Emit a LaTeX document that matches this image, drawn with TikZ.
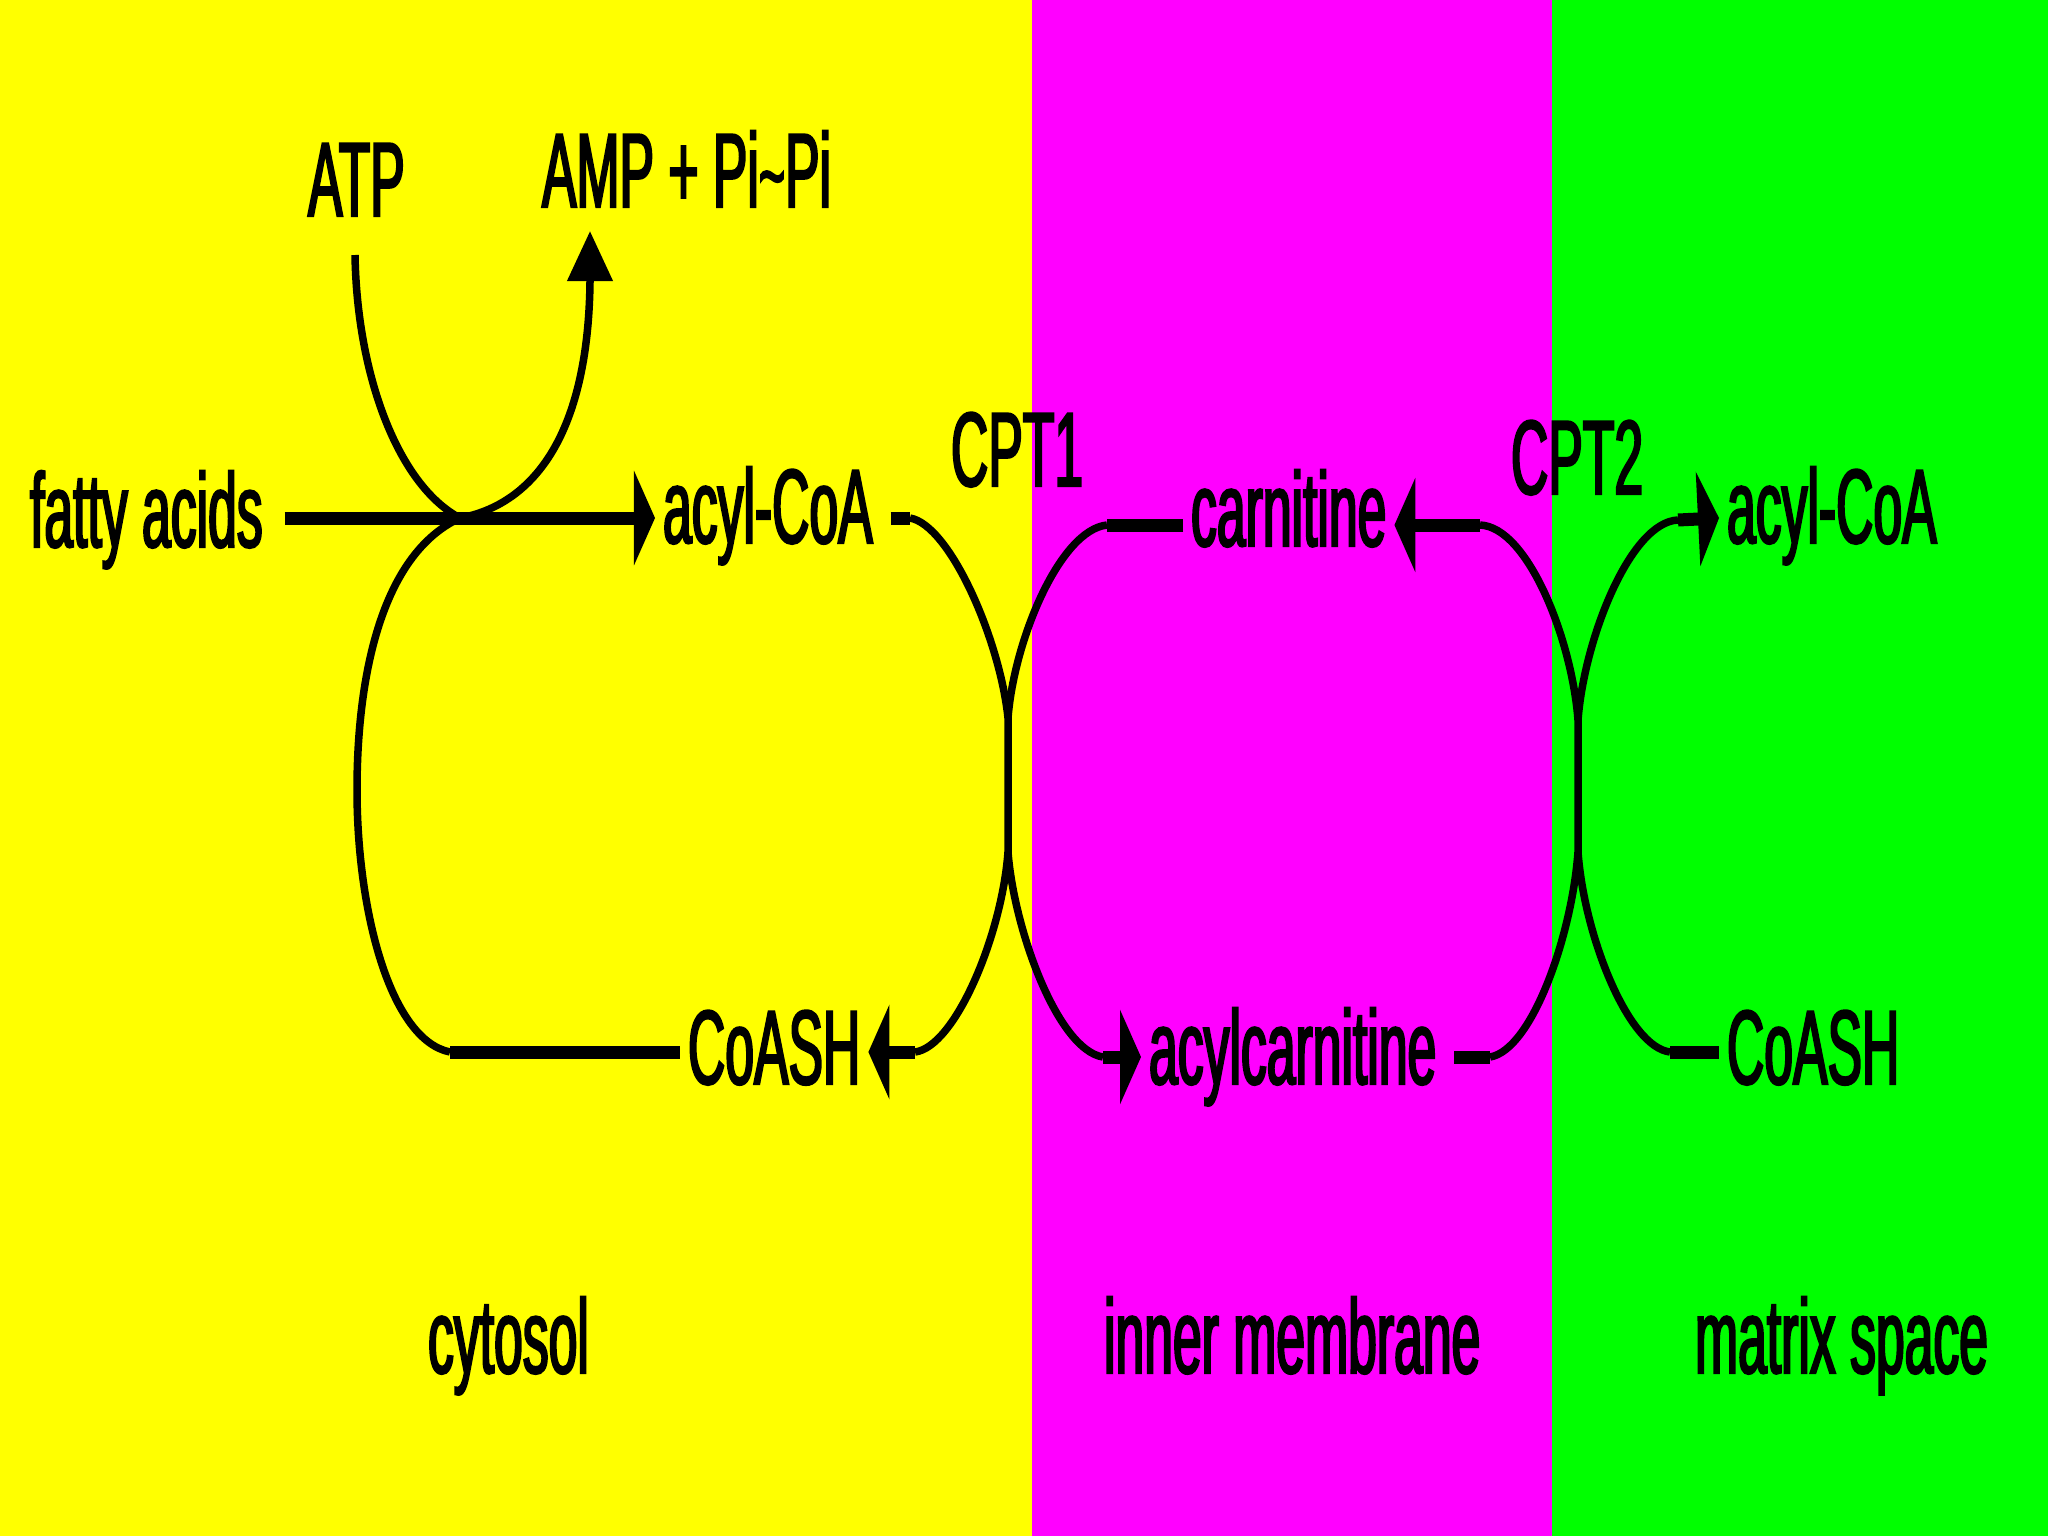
\documentclass[tikz,border=0pt]{standalone}
\usepackage{fontspec}
\setmainfont{Liberation Sans}[FakeStretch=0.49, FakeBold=2]
\usetikzlibrary{arrows.meta}
\definecolor{cyto}{RGB}{255,255,0}
\definecolor{memb}{RGB}{255,0,255}
\definecolor{matx}{RGB}{0,255,0}
\tikzset{
  lab/.style={font=\fontsize{30}{36}\selectfont, inner xsep=0.08cm, inner ysep=0pt, outer sep=0pt, anchor=base west},
  thn/.style={line width=0.075cm, black},
  thk/.style={line width=0.13cm, black},
  htip/.style={-{Triangle[length=0.21cm,width=0.94cm]}},
  vtip/.style={-{Triangle[length=0.5cm,width=0.44cm]}}
}
\begin{document}
\begin{tikzpicture}[x=0.01cm,y=-0.01cm]
\useasboundingbox (0,0) rectangle (2048,1536);
\fill[cyto] (0,0) rectangle (1032,1536);
\fill[memb] (1032,0) rectangle (1552,1536);
\fill[matx] (1552,0) rectangle (2048,1536);

% labels
\node[lab] (fatty) at (22,547) {fatty acids};
\node[lab] (atp) at (300,216) {ATP};
\node[lab] (amp) at (534,207) {AMP + Pi{\fontsize{26}{30}\selectfont\textasciitilde}Pi};
\node[lab] (acylL) at (655,543) {acyl-CoA};
\node[lab] (cpt1) at (943,486) {CPT1};
\node[lab] (carn) at (1183,546) {carnitine};
\node[lab] (cpt2) at (1503,494) {CPT2};
\node[lab] (acylR) at (1719,543) {acyl-CoA};
\node[lab] (coashL) at (680,1084) {CoASH};
\node[lab] (acylcarn) at (1141,1084) {acylcarnitine};
\node[lab] (coashR) at (1719,1084) {CoASH};
\node[lab] (cytosol) at (420,1373) {cytosol};
\node[lab] (inner) at (1096,1373) {inner membrane};
\node[lab] (matrix) at (1687,1373) {matrix space};

% rows and junctions
\coordinate (rowA) at (0,518);
\coordinate (rowC) at (0,525);
\coordinate (rowB) at (0,1052);
\coordinate (rowD) at (0,1057);
\coordinate (atpout) at (355,255);
\coordinate (amptip) at (590,231);
\coordinate (J1) at (460,518);
\coordinate (X1t) at (1008,718);
\coordinate (X1b) at (1008,852);
\coordinate (X2t) at (1578,720);
\coordinate (X2b) at (1578,852);

% fatty acids -> acyl-CoA
\draw[thk,htip] ([xshift=0.14cm]fatty.east |- rowA) -- (acylL.west |- rowA);
% ATP -> AMP
\draw[thn] (atpout) .. controls (357,375) and (398,485) .. (J1);
\draw[thn,vtip] (J1) .. controls (530,505) and (588,440) .. (590,282) -- (amptip);
% CoASH loop
\draw[thn] (J1) .. controls (380,555) and (357,680) .. (357,790) .. controls (357,910) and (390,1040) .. (450,1052);
\draw[thk] (450,1052) -- (coashL.west |- rowB);

% CPT1: acyl-CoA -> acylcarnitine
\draw[thk] ([xshift=0.1cm]acylL.east |- rowA) -- (910,518);
\draw[thn] (910,518) .. controls (950,525) and (1000,640) .. (X1t) -- (X1b)
  .. controls (1014,930) and (1058,1050) .. (1103,1057);
\draw[thk,htip] (1103,1057) -- (acylcarn.west |- rowD);
% CPT1: carnitine -> CoASH
\draw[thk] (carn.west |- rowC) -- (1107,525);
\draw[thn] (1107,525) .. controls (1060,530) and (1014,640) .. (X1t);
\draw[thn] (X1b) .. controls (1002,935) and (955,1047) .. (915,1052);
\draw[thk,htip] (915,1052) -- (coashL.east |- rowB);

% CPT2: acylcarnitine -> acyl-CoA
\draw[thk] ([xshift=0.1cm]acylcarn.east |- rowD) -- (1490,1057);
\draw[thn] (1490,1057) .. controls (1532,1050) and (1572,935) .. (X2b) -- (X2t)
  .. controls (1584,640) and (1630,522) .. (1678,520);
\draw[thk,htip] (1678,520) -- (acylR.west |- rowA);
% CPT2: CoASH -> carnitine
\draw[thk] (coashR.west |- rowB) -- (1670,1052);
\draw[thn] (1670,1052) .. controls (1628,1047) and (1584,935) .. (X2b);
\draw[thn] (X2t) .. controls (1572,640) and (1528,527) .. (1480,525);
\draw[thk,htip] (1480,525) -- (carn.east |- rowC);
\end{tikzpicture}
\end{document}
